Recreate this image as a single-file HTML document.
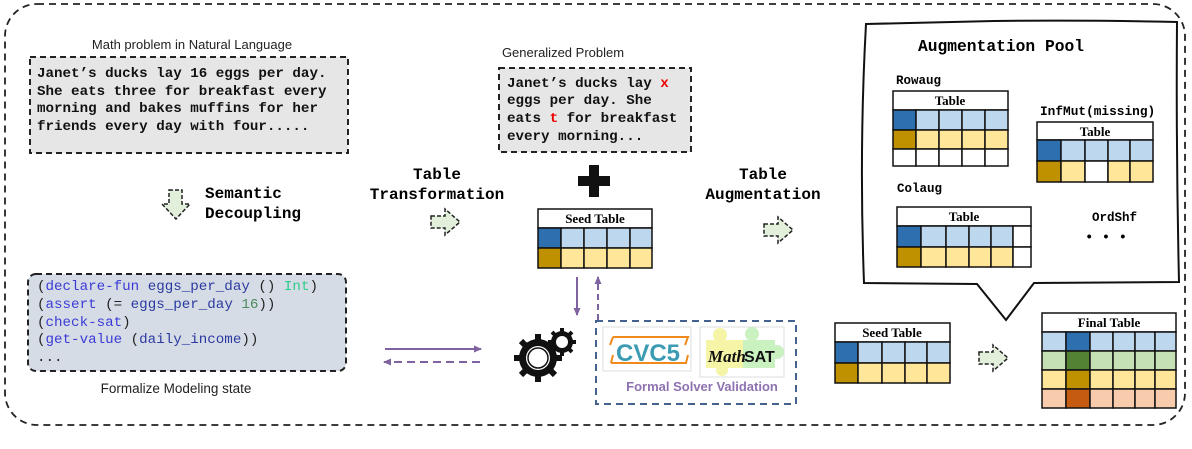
<!DOCTYPE html>
<html><head><meta charset="utf-8"><style>
body{margin:0;background:#fff}
svg{display:block}
.m{font-family:"Liberation Mono","DejaVu Sans Mono",monospace;font-weight:bold}
.s{font-family:"Liberation Sans","DejaVu Sans",sans-serif}
.t{font-family:"Liberation Serif",serif;font-weight:bold;font-size:13px}
</style></head><body>
<svg width="1192" height="449" viewBox="0 0 1192 449" xmlns="http://www.w3.org/2000/svg">
<defs>
<marker id="ah" markerWidth="8" markerHeight="8" refX="7" refY="4" orient="auto" markerUnits="userSpaceOnUse"><path d="M0,0.5 L8,4 L0,7.5z" fill="#7f63a0"/></marker>
</defs>
<!-- outer -->
<rect x="5" y="4" width="1180" height="421" rx="32" fill="none" stroke="#222" stroke-width="1.8" stroke-dasharray="7,5"/>

<!-- NL -->
<text class="s" x="192" y="49" font-size="13" text-anchor="middle" fill="#222">Math problem in Natural Language</text>
<rect x="30" y="57" width="318" height="96" fill="#e6e6e6" stroke="#222" stroke-width="2" stroke-dasharray="6,4"/>
<g class="m" font-size="14.2" fill="#111">
<text x="37" y="77">Janet’s ducks lay 16 eggs per day.</text>
<text x="37" y="95">She eats three for breakfast every</text>
<text x="37" y="112">morning and bakes muffins for her</text>
<text x="37" y="130">friends every day with four.....</text>
</g>

<!-- semantic arrow -->
<path d="M169,190 h13 v14 h8 l-14,15 l-14,-15 h7z" fill="#e2efda" stroke="#222" stroke-width="1.5" stroke-dasharray="4,2"/>
<text class="m" x="205" y="198" font-size="16">Semantic</text>
<text class="m" x="205" y="218" font-size="16">Decoupling</text>

<!-- code box -->
<rect x="28" y="274" width="318" height="97" rx="8" fill="#d6dce5" stroke="#222" stroke-width="2" stroke-dasharray="6,4"/>
<g font-family="Liberation Mono,DejaVu Sans Mono,monospace" font-size="14.2">
<text x="37" y="290" fill="#222">(<tspan fill="#3b3bd6">declare-fun</tspan> <tspan fill="#2b3aa0">eggs_per_day</tspan> () <tspan fill="#2ecc8a">Int</tspan>)</text>
<text x="37" y="308" fill="#222">(<tspan fill="#3b3bd6">assert</tspan> (= <tspan fill="#2b3aa0">eggs_per_day</tspan> <tspan fill="#4a8a5a">16</tspan>))</text>
<text x="37" y="326" fill="#222">(<tspan fill="#3b3bd6">check-sat</tspan>)</text>
<text x="37" y="343" fill="#222">(<tspan fill="#3b3bd6">get-value</tspan> (<tspan fill="#2b3aa0">daily_income</tspan>))</text>
<text x="37" y="361" fill="#222">...</text>
</g>
<text class="s" x="176" y="393" font-size="13.5" text-anchor="middle" fill="#222">Formalize Modeling state</text>

<!-- horizontal arrows -->
<line x1="385" y1="349" x2="481" y2="349" stroke="#7f63a0" stroke-width="2" marker-end="url(#ah)"/>
<line x1="480" y1="362" x2="384" y2="362" stroke="#7f63a0" stroke-width="2" stroke-dasharray="8,5" marker-end="url(#ah)"/>

<!-- table transformation -->
<text class="m" x="437" y="179" font-size="16" text-anchor="middle">Table</text>
<text class="m" x="437" y="199" font-size="16" text-anchor="middle">Transformation</text>
<path d="M431,216 h14 v-7 l15,13 l-15,13 v-7 h-14z" fill="#e2efda" stroke="#222" stroke-width="1.5" stroke-dasharray="4,2"/>

<!-- generalized -->
<text class="s" x="563" y="57" font-size="13" text-anchor="middle" fill="#222">Generalized Problem</text>
<rect x="499" y="68" width="192" height="84" fill="#e6e6e6" stroke="#222" stroke-width="2" stroke-dasharray="6,4"/>
<g class="m" font-size="14.2" fill="#111">
<text x="507" y="87">Janet’s ducks lay <tspan fill="#e00">x</tspan></text>
<text x="507" y="104">eggs per day. She</text>
<text x="507" y="122">eats <tspan fill="#e00">t</tspan> for breakfast</text>
<text x="507" y="140">every morning...</text>
</g>
<path d="M589,165 h10 v11 h11 v10 h-11 v11 h-10 v-11 h-11 v-10 h11z" fill="#111"/>

<!-- seed table mid -->
<g stroke="#111" stroke-width="1.5">
<rect x="538" y="209" width="114" height="19" fill="#fff"/>
<rect x="538" y="228" width="23" height="20" fill="#2e6fb0"/><rect x="561" y="228" width="23" height="20" fill="#bdd7ee"/><rect x="584" y="228" width="23" height="20" fill="#bdd7ee"/><rect x="607" y="228" width="23" height="20" fill="#bdd7ee"/><rect x="630" y="228" width="22" height="20" fill="#bdd7ee"/>
<rect x="538" y="248" width="23" height="20" fill="#bf9000"/><rect x="561" y="248" width="23" height="20" fill="#ffe699"/><rect x="584" y="248" width="23" height="20" fill="#ffe699"/><rect x="607" y="248" width="23" height="20" fill="#ffe699"/><rect x="630" y="248" width="22" height="20" fill="#ffe699"/>
</g>
<text class="t" x="595" y="223" text-anchor="middle">Seed Table</text>

<!-- vertical arrows -->
<line x1="577" y1="277" x2="577" y2="315" stroke="#7f63a0" stroke-width="2" marker-end="url(#ah)"/>
<line x1="598" y1="320" x2="598" y2="277" stroke="#7f63a0" stroke-width="2" stroke-dasharray="6,4" marker-end="url(#ah)"/>

<!-- gears -->
<g fill="#111">
<circle cx="538" cy="358" r="19"/>
<g stroke="#111" stroke-width="6" stroke-linecap="butt">
<line x1="538" y1="334" x2="538" y2="382"/><line x1="514" y1="358" x2="562" y2="358"/>
<line x1="521" y1="341" x2="555" y2="375"/><line x1="555" y1="341" x2="521" y2="375"/>
</g>
<circle cx="538" cy="358" r="12" fill="#fff"/><circle cx="538" cy="358" r="10" fill="none" stroke="#111" stroke-width="1.5"/>
<circle cx="562" cy="342" r="11"/>
<g stroke="#111" stroke-width="4"><line x1="562" y1="328" x2="562" y2="356"/><line x1="548" y1="342" x2="576" y2="342"/><line x1="552" y1="332" x2="572" y2="352"/><line x1="572" y1="332" x2="552" y2="352"/></g>
<circle cx="562" cy="342" r="6" fill="#fff"/>
</g>

<!-- formal solver box -->
<rect x="596" y="321" width="200" height="83" fill="none" stroke="#44618f" stroke-width="2" stroke-dasharray="7,5"/>
<rect x="603" y="327" width="88" height="44" fill="#fff" stroke="#ddd"/>
<path d="M613,337 h75 l-3,8 M613,337 l-3,8 M611,363 h75 l2,-8 M611,363 l2,-8" stroke="#f08a1c" stroke-width="2" fill="none"/>
<text class="s" x="648" y="361" font-size="24" font-weight="bold" text-anchor="middle" fill="#3a9bb2">CVC5</text>
<rect x="700" y="327" width="84" height="50" fill="#fff" stroke="#ddd"/>
<circle cx="720" cy="335" r="7" fill="#f6f4a6"/><circle cx="752" cy="334" r="7" fill="#c9f2c0"/>
<rect x="706" y="340" width="37" height="28" fill="#f6f4a6"/><rect x="743" y="340" width="32" height="28" fill="#c9f2c0"/>
<circle cx="777" cy="352" r="7" fill="#c9f2c0"/><circle cx="722" cy="370" r="6" fill="#f6f4a6"/>
<text x="708" y="362" font-family="Liberation Serif,serif" font-style="italic" font-weight="bold" font-size="17" fill="#111">Math</text>
<text x="744" y="362" class="s" font-weight="bold" font-size="16" fill="#111">SAT</text>
<text class="s" x="702" y="391" font-size="13" font-weight="bold" text-anchor="middle" fill="#8e72b0">Formal Solver Validation</text>

<!-- table augmentation -->
<text class="m" x="763" y="179" font-size="16" text-anchor="middle">Table</text>
<text class="m" x="763" y="199" font-size="16" text-anchor="middle">Augmentation</text>
<path d="M764,224 h14 v-7 l15,13 l-15,13 v-7 h-14z" fill="#e2efda" stroke="#222" stroke-width="1.5" stroke-dasharray="4,2"/>

<!-- bubble -->
<path d="M866,24 Q960,22 994,21 Q1090,20 1177,22 Q1176,150 1179,282 L1034,283 L1006,320 L977,284 L864,283 Q859,150 866,24z" fill="#fff" stroke="#111" stroke-width="2"/>
<text class="m" x="1001" y="51" font-size="16.3" text-anchor="middle">Augmentation Pool</text>
<text class="m" x="896" y="84" font-size="12.5">Rowaug</text>
<text class="m" x="1040" y="115" font-size="12.8">InfMut(missing)</text>
<text class="m" x="897" y="192" font-size="12.5">Colaug</text>
<text class="m" x="1092" y="221" font-size="12.5">OrdShf</text>
<text class="m" x="1106" y="241" font-size="14" text-anchor="middle">• • •</text>

<g stroke="#111" stroke-width="1.5">
<!-- Rowaug -->
<rect x="893" y="91" width="115" height="19" fill="#fff"/>
<rect x="893" y="110" width="23" height="20" fill="#2e6fb0"/><rect x="916" y="110" width="23" height="20" fill="#bdd7ee"/><rect x="939" y="110" width="23" height="20" fill="#bdd7ee"/><rect x="962" y="110" width="23" height="20" fill="#bdd7ee"/><rect x="985" y="110" width="23" height="20" fill="#bdd7ee"/>
<rect x="893" y="130" width="23" height="19" fill="#bf9000"/><rect x="916" y="130" width="23" height="19" fill="#ffe699"/><rect x="939" y="130" width="23" height="19" fill="#ffe699"/><rect x="962" y="130" width="23" height="19" fill="#ffe699"/><rect x="985" y="130" width="23" height="19" fill="#ffe699"/>
<rect x="893" y="149" width="23" height="17" fill="#fff"/><rect x="916" y="149" width="23" height="17" fill="#fff"/><rect x="939" y="149" width="23" height="17" fill="#fff"/><rect x="962" y="149" width="23" height="17" fill="#fff"/><rect x="985" y="149" width="23" height="17" fill="#fff"/>
<!-- InfMut -->
<rect x="1037" y="122" width="116" height="18" fill="#fff"/>
<rect x="1037" y="140" width="24" height="21" fill="#2e6fb0"/><rect x="1061" y="140" width="24" height="21" fill="#bdd7ee"/><rect x="1085" y="140" width="23" height="21" fill="#bdd7ee"/><rect x="1108" y="140" width="22" height="21" fill="#bdd7ee"/><rect x="1130" y="140" width="23" height="21" fill="#bdd7ee"/>
<rect x="1037" y="161" width="24" height="21" fill="#bf9000"/><rect x="1061" y="161" width="24" height="21" fill="#ffe699"/><rect x="1085" y="161" width="23" height="21" fill="#fff"/><rect x="1108" y="161" width="22" height="21" fill="#ffe699"/><rect x="1130" y="161" width="23" height="21" fill="#ffe699"/>
<!-- Colaug -->
<rect x="897" y="207" width="134" height="19" fill="#fff"/>
<rect x="897" y="226" width="24" height="21" fill="#2e6fb0"/><rect x="921" y="226" width="25" height="21" fill="#bdd7ee"/><rect x="946" y="226" width="23" height="21" fill="#bdd7ee"/><rect x="969" y="226" width="22" height="21" fill="#bdd7ee"/><rect x="991" y="226" width="22" height="21" fill="#bdd7ee"/><rect x="1013" y="226" width="18" height="21" fill="#fff"/>
<rect x="897" y="247" width="24" height="20" fill="#bf9000"/><rect x="921" y="247" width="25" height="20" fill="#ffe699"/><rect x="946" y="247" width="23" height="20" fill="#ffe699"/><rect x="969" y="247" width="22" height="20" fill="#ffe699"/><rect x="991" y="247" width="22" height="20" fill="#ffe699"/><rect x="1013" y="247" width="18" height="20" fill="#fff"/>
<!-- Seed2 -->
<rect x="835" y="323" width="115" height="19" fill="#fff"/>
<rect x="835" y="342" width="23" height="21" fill="#2e6fb0"/><rect x="858" y="342" width="24" height="21" fill="#bdd7ee"/><rect x="882" y="342" width="23" height="21" fill="#bdd7ee"/><rect x="905" y="342" width="22" height="21" fill="#bdd7ee"/><rect x="927" y="342" width="23" height="21" fill="#bdd7ee"/>
<rect x="835" y="363" width="23" height="20" fill="#bf9000"/><rect x="858" y="363" width="24" height="20" fill="#ffe699"/><rect x="882" y="363" width="23" height="20" fill="#ffe699"/><rect x="905" y="363" width="22" height="20" fill="#ffe699"/><rect x="927" y="363" width="23" height="20" fill="#ffe699"/>
<!-- Final -->
<rect x="1042" y="313" width="134" height="19" fill="#fff"/>
<rect x="1042" y="332" width="24" height="19" fill="#bdd7ee"/><rect x="1066" y="332" width="24" height="19" fill="#2e6fb0"/><rect x="1090" y="332" width="23" height="19" fill="#bdd7ee"/><rect x="1113" y="332" width="22" height="19" fill="#bdd7ee"/><rect x="1135" y="332" width="20" height="19" fill="#bdd7ee"/><rect x="1155" y="332" width="21" height="19" fill="#bdd7ee"/>
<rect x="1042" y="351" width="24" height="19" fill="#c5e0b4"/><rect x="1066" y="351" width="24" height="19" fill="#548235"/><rect x="1090" y="351" width="23" height="19" fill="#c5e0b4"/><rect x="1113" y="351" width="22" height="19" fill="#c5e0b4"/><rect x="1135" y="351" width="20" height="19" fill="#c5e0b4"/><rect x="1155" y="351" width="21" height="19" fill="#c5e0b4"/>
<rect x="1042" y="370" width="24" height="19" fill="#ffe699"/><rect x="1066" y="370" width="24" height="19" fill="#bf9000"/><rect x="1090" y="370" width="23" height="19" fill="#ffe699"/><rect x="1113" y="370" width="22" height="19" fill="#ffe699"/><rect x="1135" y="370" width="20" height="19" fill="#ffe699"/><rect x="1155" y="370" width="21" height="19" fill="#ffe699"/>
<rect x="1042" y="389" width="24" height="19" fill="#f8cbad"/><rect x="1066" y="389" width="24" height="19" fill="#c55a11"/><rect x="1090" y="389" width="23" height="19" fill="#f8cbad"/><rect x="1113" y="389" width="22" height="19" fill="#f8cbad"/><rect x="1135" y="389" width="20" height="19" fill="#f8cbad"/><rect x="1155" y="389" width="21" height="19" fill="#f8cbad"/>
</g>
<text class="t" x="950" y="105" text-anchor="middle">Table</text>
<text class="t" x="1095" y="136" text-anchor="middle">Table</text>
<text class="t" x="964" y="221" text-anchor="middle">Table</text>
<text class="t" x="892" y="337" text-anchor="middle">Seed Table</text>
<text class="t" x="1109" y="327" text-anchor="middle">Final Table</text>

<path d="M979,352 h14 v-7 l15,13 l-15,13 v-7 h-14z" fill="#e2efda" stroke="#222" stroke-width="1.5" stroke-dasharray="4,2"/>
</svg>
</body></html>
